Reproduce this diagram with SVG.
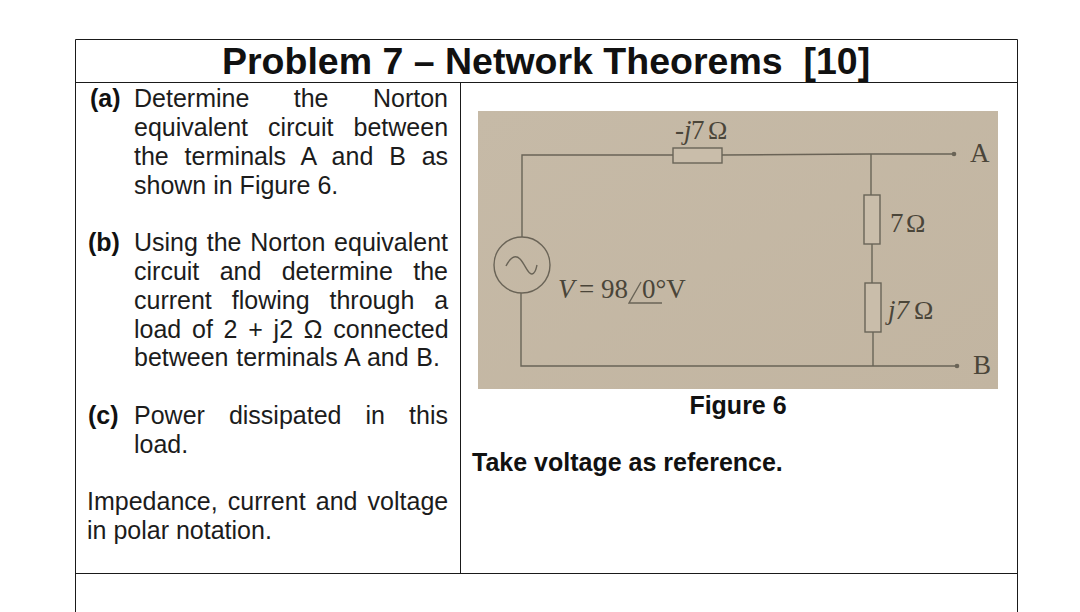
<svg xmlns="http://www.w3.org/2000/svg" width="1080" height="612" viewBox="0 0 1080 612">
<defs>
<style>
.rule{stroke:#1a1a1a;stroke-width:1;fill:none}
.t{font-family:"Liberation Sans",Arial,sans-serif;font-size:25px;fill:#1c1c1c}
.b{font-weight:700;fill:#111}
.w{stroke:#6a6457;stroke-width:1.4;fill:none}
.r{stroke:#6a6457;stroke-width:1.4;fill:#c9bdaa}
.d{fill:#6a6457}
.c{font-family:"Liberation Serif","Times New Roman",serif;font-size:27px;fill:#4a4539}
.o{font-size:26px}
.i{font-style:italic}
</style>
<linearGradient id="photo" x1="0" y1="0" x2="1" y2="1">
<stop offset="0" stop-color="#c6baa7"/><stop offset="1" stop-color="#c2b5a1"/>
</linearGradient>
<filter id="soft" x="-5%" y="-5%" width="110%" height="110%"><feGaussianBlur stdDeviation="0.35"/></filter>
</defs>
<rect width="1080" height="612" fill="#fff"/>
<g id="table">
<path class="rule" d="M75.500 612V39.500H1017.500V612M75.500 82.500H1017.500M460.500 82.500V573.500M75.500 573.500H1017.500"/>
</g>
<text id="title" class="t b" x="222" y="74" style="font-size:37.500px" xml:space="preserve">Problem 7 – Network Theorems  [10]</text>
<g id="questions">
<text class="t b" x="90" y="107">(a)</text>
<text class="t" x="134" y="107" word-spacing="37.500">Determine the Norton</text>
<text class="t" x="134" y="136" word-spacing="13.200">equivalent circuit between</text>
<text class="t" x="134" y="165" word-spacing="8.900">the terminals A and B as</text>
<text class="t" x="134" y="194">shown in Figure 6.</text>
<text class="t b" x="88" y="251">(b)</text>
<text class="t" x="134" y="251" word-spacing="1.850">Using the Norton equivalent</text>
<text class="t" x="134" y="280" word-spacing="13.400">circuit and determine the</text>
<text class="t" x="134" y="309" word-spacing="13">current flowing through a</text>
<text class="t" x="134" y="338" word-spacing="3.800">load of 2 + j2 Ω connected</text>
<text class="t" x="134" y="366" word-spacing="0.750">between terminals A and B.</text>
<text class="t b" x="88" y="424">(c)</text>
<text class="t" x="134" y="424" word-spacing="17.100">Power dissipated in this</text>
<text class="t" x="134" y="453">load.</text>
<text class="t" x="87" y="510" word-spacing="3.200">Impedance, current and voltage</text>
<text class="t" x="87" y="539">in polar notation.</text>
</g>
<rect id="photo-bg" x="478" y="111" width="520" height="278" fill="url(#photo)"/>
<g id="connectors" filter="url(#soft)">
<path class="w" d="M522 237V155H673M722 155L871 154H954"/>
<path class="w" d="M871 154V195M872 244V283M873 332V366"/>
<path class="w" d="M521 293V366H957"/>
</g>
<g id="source" filter="url(#soft)">
<circle class="w" cx="522" cy="265" r="28"/>
<path class="w" d="M506 266C510 258 515 254 520 259S528 275 532 274 536 268 537 265"/>
</g>
<g id="resistor-top" filter="url(#soft)"><rect class="r" x="673" y="148" width="49" height="15"/></g>
<g id="resistor-7" filter="url(#soft)"><rect class="r" x="864" y="195" width="16" height="49"/></g>
<g id="resistor-j7" filter="url(#soft)"><rect class="r" x="865" y="283" width="16" height="49"/></g>
<g id="terminal-a"><circle class="d" cx="954" cy="154" r="2.300"/><text class="c" x="970" y="162">A</text></g>
<g id="terminal-b"><circle class="d" cx="957" cy="366" r="2.300"/><text class="c" x="973" y="374">B</text></g>
<g id="labels">
<text class="c" x="675" y="139"><tspan class="i">-j</tspan></text>
<text class="c" x="691" y="139">7</text>
<text class="c o" x="708" y="139">Ω</text>
<text class="c" x="890" y="232">7</text>
<text class="c o" x="906" y="232">Ω</text>
<text class="c i" x="888" y="319">j7</text>
<text class="c o" x="914" y="319">Ω</text>
<text class="c i" x="558" y="298">V</text>
<text class="c" x="579" y="298">=</text>
<text class="c" x="601" y="298">98</text>
<text class="c" x="642" y="298">0°V</text>
<path class="w" d="M662 303H629L641 282"/>
</g>
<text id="figure-caption" class="t b" x="738" y="414" text-anchor="middle">Figure 6</text>
<text id="note" class="t b" x="472" y="471">Take voltage as reference.</text>
</svg>
